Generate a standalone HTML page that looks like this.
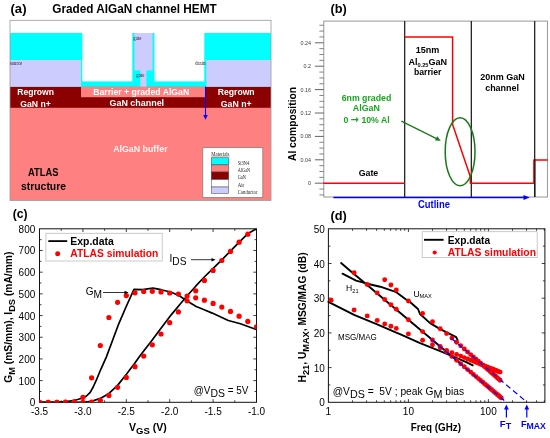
<!DOCTYPE html>
<html lang="en"><head><meta charset="utf-8"><title>Graded AlGaN channel HEMT</title>
<style>html,body{margin:0;padding:0;background:#fff;overflow:hidden}svg{display:block}</style></head>
<body>
<svg width="550" height="438" viewBox="0 0 550 438">
<rect x="0.00" y="0.00" width="550.00" height="438.00" fill="#fff" stroke="none" stroke-width="1" />
<g id="panel-a">
<text x="10.50" y="12.60" font-family='"Liberation Sans", Arial, sans-serif' font-size="12" text-anchor="start" font-weight="bold" fill="#000" textLength="16.0" lengthAdjust="spacingAndGlyphs" >(a)</text>
<text x="52.30" y="12.60" font-family='"Liberation Sans", Arial, sans-serif' font-size="12" text-anchor="start" font-weight="bold" fill="#000" textLength="164.4" lengthAdjust="spacingAndGlyphs" >Graded AlGaN channel HEMT</text>
<rect x="10.00" y="20.30" width="261.00" height="180.10" fill="#fff" stroke="none" stroke-width="1" />
<rect x="10.00" y="86.60" width="261.00" height="113.80" fill="#ff8080" stroke="none" stroke-width="1" />
<rect x="10.00" y="86.60" width="261.00" height="21.20" fill="#8b0000" stroke="none" stroke-width="1" />
<rect x="81.00" y="86.60" width="124.50" height="10.60" fill="#ff8080" stroke="none" stroke-width="1" />
<rect x="10.00" y="33.00" width="72.30" height="53.60" fill="#00ffff" stroke="none" stroke-width="1" />
<rect x="10.00" y="60.00" width="71.00" height="26.60" fill="#ccccff" stroke="none" stroke-width="1" />
<rect x="204.30" y="33.00" width="66.70" height="53.60" fill="#00ffff" stroke="none" stroke-width="1" />
<rect x="206.30" y="60.00" width="64.70" height="26.60" fill="#ccccff" stroke="none" stroke-width="1" />
<rect x="81.00" y="81.40" width="125.00" height="5.20" fill="#00ffff" stroke="none" stroke-width="1" />
<rect x="132.30" y="33.00" width="22.20" height="49.40" fill="#00ffff" stroke="none" stroke-width="1" />
<rect x="134.40" y="33.00" width="18.20" height="37.50" fill="#ccccff" stroke="none" stroke-width="1" />
<rect x="140.40" y="70.00" width="6.00" height="16.60" fill="#ccccff" stroke="none" stroke-width="1" />
<rect x="10.00" y="20.30" width="261.00" height="180.10" fill="none" stroke="#9a9a9a" stroke-width="0.8" />
<text x="17.25" y="95.17" font-family='"Liberation Sans", Arial, sans-serif' font-size="8.8" text-anchor="start" font-weight="bold" fill="#fff" textLength="36.7" lengthAdjust="spacingAndGlyphs" >Regrown</text>
<text x="20.35" y="106.77" font-family='"Liberation Sans", Arial, sans-serif' font-size="8.8" text-anchor="start" font-weight="bold" fill="#fff" textLength="30.5" lengthAdjust="spacingAndGlyphs" >GaN n+</text>
<text x="217.75" y="95.17" font-family='"Liberation Sans", Arial, sans-serif' font-size="8.8" text-anchor="start" font-weight="bold" fill="#fff" textLength="36.9" lengthAdjust="spacingAndGlyphs" >Regrown</text>
<text x="220.80" y="106.77" font-family='"Liberation Sans", Arial, sans-serif' font-size="8.8" text-anchor="start" font-weight="bold" fill="#fff" textLength="30.8" lengthAdjust="spacingAndGlyphs" >GaN n+</text>
<text x="93.20" y="94.57" font-family='"Liberation Sans", Arial, sans-serif' font-size="8.8" text-anchor="start" font-weight="bold" fill="#fff" textLength="96.0" lengthAdjust="spacingAndGlyphs" >Barrier + graded AlGaN</text>
<text x="109.50" y="105.57" font-family='"Liberation Sans", Arial, sans-serif' font-size="8.8" text-anchor="start" font-weight="bold" fill="#fff" textLength="54.6" lengthAdjust="spacingAndGlyphs" >GaN channel</text>
<text x="113.20" y="152.17" font-family='"Liberation Sans", Arial, sans-serif' font-size="8.8" text-anchor="start" font-weight="bold" fill="#fff4f4" textLength="54.4" lengthAdjust="spacingAndGlyphs" >AlGaN buffer</text>
<text x="28.05" y="176.40" font-family='"Liberation Sans", Arial, sans-serif' font-size="10" text-anchor="start" font-weight="bold" fill="#000" textLength="30.5" lengthAdjust="spacingAndGlyphs" >ATLAS</text>
<text x="21.00" y="189.60" font-family='"Liberation Sans", Arial, sans-serif' font-size="10" text-anchor="start" font-weight="bold" fill="#000" textLength="45.0" lengthAdjust="spacingAndGlyphs" >structure</text>
<text x="10.00" y="65.00" font-family='"Liberation Serif", "Times New Roman", serif' font-size="6.2" text-anchor="start" font-weight="normal" fill="#222" textLength="12.0" lengthAdjust="spacingAndGlyphs" >source</text>
<text x="133.30" y="40.20" font-family='"Liberation Serif", "Times New Roman", serif' font-size="6.2" text-anchor="start" font-weight="normal" fill="#222" textLength="8.0" lengthAdjust="spacingAndGlyphs" >gate</text>
<text x="136.30" y="77.10" font-family='"Liberation Serif", "Times New Roman", serif' font-size="6.2" text-anchor="start" font-weight="normal" fill="#222" textLength="8.0" lengthAdjust="spacingAndGlyphs" >gate</text>
<text x="194.90" y="64.80" font-family='"Liberation Serif", "Times New Roman", serif' font-size="6.2" text-anchor="start" font-weight="normal" fill="#222" textLength="10.6" lengthAdjust="spacingAndGlyphs" >drain</text>
<line x1="205.50" y1="86.60" x2="205.50" y2="116.00" stroke="#0000ff" stroke-width="1.1" />
<polygon points="203.2,115 207.8,115 205.5,119.8" fill="#0000ff"/>
<rect x="202.80" y="147.70" width="60.00" height="49.70" fill="#fff" stroke="#777" stroke-width="0.7" />
<text x="211.30" y="156.00" font-family='"Liberation Serif", "Times New Roman", serif' font-size="7" text-anchor="start" font-weight="normal" fill="#222" textLength="18.2" lengthAdjust="spacingAndGlyphs" >Materials</text>
<line x1="211.30" y1="156.90" x2="229.50" y2="156.90" stroke="#333" stroke-width="0.4" />
<rect x="211.30" y="157.80" width="17.40" height="7.10" fill="#00ffff" stroke="#444" stroke-width="0.5" />
<text x="237.70" y="165.20" font-family='"Liberation Serif", "Times New Roman", serif' font-size="6.7" text-anchor="start" font-weight="normal" fill="#222" textLength="11.5" lengthAdjust="spacingAndGlyphs" >Si3N4</text>
<rect x="211.30" y="164.90" width="17.40" height="7.10" fill="#ff8080" stroke="#444" stroke-width="0.5" />
<text x="237.70" y="172.30" font-family='"Liberation Serif", "Times New Roman", serif' font-size="6.7" text-anchor="start" font-weight="normal" fill="#222" textLength="12.5" lengthAdjust="spacingAndGlyphs" >AlGaN</text>
<rect x="211.30" y="172.00" width="17.40" height="7.60" fill="#8b0000" stroke="#444" stroke-width="0.5" />
<text x="237.70" y="179.40" font-family='"Liberation Serif", "Times New Roman", serif' font-size="6.7" text-anchor="start" font-weight="normal" fill="#222" textLength="8.3" lengthAdjust="spacingAndGlyphs" >GaN</text>
<rect x="211.30" y="179.60" width="17.40" height="7.40" fill="#fff" stroke="#444" stroke-width="0.5" />
<text x="237.70" y="186.70" font-family='"Liberation Serif", "Times New Roman", serif' font-size="6.7" text-anchor="start" font-weight="normal" fill="#222" textLength="6.5" lengthAdjust="spacingAndGlyphs" >Air</text>
<rect x="211.30" y="187.00" width="17.40" height="6.50" fill="#ccccff" stroke="#444" stroke-width="0.5" />
<text x="237.70" y="193.80" font-family='"Liberation Serif", "Times New Roman", serif' font-size="6.7" text-anchor="start" font-weight="normal" fill="#222" textLength="19.6" lengthAdjust="spacingAndGlyphs" >Conductor</text>
</g>
<g id="panel-b">
<text x="330.40" y="12.60" font-family='"Liberation Sans", Arial, sans-serif' font-size="12" text-anchor="start" font-weight="bold" fill="#000" textLength="16.3" lengthAdjust="spacingAndGlyphs" >(b)</text>
<rect x="323.80" y="21.10" width="223.60" height="175.90" fill="#fff" stroke="#8c8c8c" stroke-width="0.9" />
<line x1="319.40" y1="194.90" x2="323.80" y2="194.90" stroke="#666" stroke-width="0.8" />
<line x1="319.40" y1="189.05" x2="323.80" y2="189.05" stroke="#666" stroke-width="0.8" />
<line x1="314.90" y1="183.20" x2="323.80" y2="183.20" stroke="#555" stroke-width="0.9" />
<text x="311.00" y="185.10" font-family='"Liberation Sans", Arial, sans-serif' font-size="5.4" text-anchor="end" font-weight="normal" fill="#3c3c3c" >0</text>
<line x1="319.40" y1="177.35" x2="323.80" y2="177.35" stroke="#666" stroke-width="0.8" />
<line x1="319.40" y1="171.50" x2="323.80" y2="171.50" stroke="#666" stroke-width="0.8" />
<line x1="319.40" y1="165.65" x2="323.80" y2="165.65" stroke="#666" stroke-width="0.8" />
<line x1="314.90" y1="159.80" x2="323.80" y2="159.80" stroke="#555" stroke-width="0.9" />
<text x="311.00" y="161.70" font-family='"Liberation Sans", Arial, sans-serif' font-size="5.4" text-anchor="end" font-weight="normal" fill="#3c3c3c" >0.04</text>
<line x1="319.40" y1="153.95" x2="323.80" y2="153.95" stroke="#666" stroke-width="0.8" />
<line x1="319.40" y1="148.10" x2="323.80" y2="148.10" stroke="#666" stroke-width="0.8" />
<line x1="319.40" y1="142.25" x2="323.80" y2="142.25" stroke="#666" stroke-width="0.8" />
<line x1="314.90" y1="136.40" x2="323.80" y2="136.40" stroke="#555" stroke-width="0.9" />
<text x="311.00" y="138.30" font-family='"Liberation Sans", Arial, sans-serif' font-size="5.4" text-anchor="end" font-weight="normal" fill="#3c3c3c" >0.08</text>
<line x1="319.40" y1="130.55" x2="323.80" y2="130.55" stroke="#666" stroke-width="0.8" />
<line x1="319.40" y1="124.70" x2="323.80" y2="124.70" stroke="#666" stroke-width="0.8" />
<line x1="319.40" y1="118.85" x2="323.80" y2="118.85" stroke="#666" stroke-width="0.8" />
<line x1="314.90" y1="113.00" x2="323.80" y2="113.00" stroke="#555" stroke-width="0.9" />
<text x="311.00" y="114.90" font-family='"Liberation Sans", Arial, sans-serif' font-size="5.4" text-anchor="end" font-weight="normal" fill="#3c3c3c" >0.12</text>
<line x1="319.40" y1="107.15" x2="323.80" y2="107.15" stroke="#666" stroke-width="0.8" />
<line x1="319.40" y1="101.30" x2="323.80" y2="101.30" stroke="#666" stroke-width="0.8" />
<line x1="319.40" y1="95.45" x2="323.80" y2="95.45" stroke="#666" stroke-width="0.8" />
<line x1="314.90" y1="89.60" x2="323.80" y2="89.60" stroke="#555" stroke-width="0.9" />
<text x="311.00" y="91.50" font-family='"Liberation Sans", Arial, sans-serif' font-size="5.4" text-anchor="end" font-weight="normal" fill="#3c3c3c" >0.16</text>
<line x1="319.40" y1="83.75" x2="323.80" y2="83.75" stroke="#666" stroke-width="0.8" />
<line x1="319.40" y1="77.90" x2="323.80" y2="77.90" stroke="#666" stroke-width="0.8" />
<line x1="319.40" y1="72.05" x2="323.80" y2="72.05" stroke="#666" stroke-width="0.8" />
<line x1="314.90" y1="66.20" x2="323.80" y2="66.20" stroke="#555" stroke-width="0.9" />
<text x="311.00" y="68.10" font-family='"Liberation Sans", Arial, sans-serif' font-size="5.4" text-anchor="end" font-weight="normal" fill="#3c3c3c" >0.2</text>
<line x1="319.40" y1="60.35" x2="323.80" y2="60.35" stroke="#666" stroke-width="0.8" />
<line x1="319.40" y1="54.50" x2="323.80" y2="54.50" stroke="#666" stroke-width="0.8" />
<line x1="319.40" y1="48.65" x2="323.80" y2="48.65" stroke="#666" stroke-width="0.8" />
<line x1="314.90" y1="42.80" x2="323.80" y2="42.80" stroke="#555" stroke-width="0.9" />
<text x="311.00" y="44.70" font-family='"Liberation Sans", Arial, sans-serif' font-size="5.4" text-anchor="end" font-weight="normal" fill="#3c3c3c" >0.24</text>
<line x1="319.40" y1="36.95" x2="323.80" y2="36.95" stroke="#666" stroke-width="0.8" />
<line x1="319.40" y1="31.10" x2="323.80" y2="31.10" stroke="#666" stroke-width="0.8" />
<line x1="319.40" y1="25.25" x2="323.80" y2="25.25" stroke="#666" stroke-width="0.8" />
<line x1="404.70" y1="21.10" x2="404.70" y2="197.00" stroke="#111" stroke-width="1.2" />
<line x1="471.30" y1="21.10" x2="471.30" y2="197.00" stroke="#111" stroke-width="1.2" />
<line x1="534.70" y1="21.10" x2="534.70" y2="197.00" stroke="#111" stroke-width="1.2" />
<polyline fill="none" stroke="#ff0000" stroke-width="1.5" stroke-linejoin="round" stroke-linecap="round" stroke-linecap="butt" points="323.8,183.2 404.0,183.2"/>
<polyline fill="none" stroke="#ff0000" stroke-width="1.5" stroke-linejoin="round" stroke-linecap="round"  points="405.2,36.9 452.6,36.9 452.6,124.4 470.2,176.3 470.4,183.2 533.9,183.2 533.9,160.0 547.4,160.0"/>
<line x1="534.90" y1="159.00" x2="534.90" y2="197.00" stroke="#111" stroke-width="1.0" />
<ellipse cx="460.1" cy="151.7" rx="14.9" ry="34" fill="none" stroke="#1a7a1a" stroke-width="1.5"/>
<line x1="401.40" y1="121.20" x2="438.50" y2="139.70" stroke="#1a7a1a" stroke-width="1.3" />
<polygon points="440.8,140.8 435.0,140.6 437.2,136.2" fill="#1a7a1a"/>
<text x="341.70" y="100.65" font-family='"Liberation Sans", Arial, sans-serif' font-size="9.3" text-anchor="start" font-weight="bold" fill="#18a61e" textLength="49.6" lengthAdjust="spacingAndGlyphs" >6nm graded</text>
<text x="352.80" y="110.85" font-family='"Liberation Sans", Arial, sans-serif' font-size="9.3" text-anchor="start" font-weight="bold" fill="#18a61e" textLength="27.0" lengthAdjust="spacingAndGlyphs" >AlGaN</text>
<text x="343.4" y="122.75" font-family='"Liberation Sans", Arial, sans-serif' font-size="9.3" font-weight="bold" fill="#18a61e" textLength="46.3" lengthAdjust="spacingAndGlyphs">0 <tspan font-family='"DejaVu Sans", sans-serif' font-size="10.5">→</tspan> 10% Al</text>
<text x="358.70" y="176.36" font-family='"Liberation Sans", Arial, sans-serif' font-size="9.6" text-anchor="start" font-weight="bold" fill="#000" textLength="19.6" lengthAdjust="spacingAndGlyphs" >Gate</text>
<text x="415.80" y="53.26" font-family='"Liberation Sans", Arial, sans-serif' font-size="9.6" text-anchor="start" font-weight="bold" fill="#000" textLength="23.6" lengthAdjust="spacingAndGlyphs" >15nm</text>
<text x="408.4" y="65.15" font-family='"Liberation Sans", Arial, sans-serif' font-size="9.3" font-weight="bold" fill="#000" textLength="38.7" lengthAdjust="spacingAndGlyphs">Al<tspan font-size="5.8" dy="1.8">0.25</tspan><tspan dy="-1.8">GaN</tspan></text>
<text x="413.95" y="75.46" font-family='"Liberation Sans", Arial, sans-serif' font-size="9.6" text-anchor="start" font-weight="bold" fill="#000" textLength="27.5" lengthAdjust="spacingAndGlyphs" >barrier</text>
<text x="480.15" y="80.46" font-family='"Liberation Sans", Arial, sans-serif' font-size="9.6" text-anchor="start" font-weight="bold" fill="#000" textLength="44.5" lengthAdjust="spacingAndGlyphs" >20nm GaN</text>
<text x="485.15" y="91.46" font-family='"Liberation Sans", Arial, sans-serif' font-size="9.6" text-anchor="start" font-weight="bold" fill="#000" textLength="33.9" lengthAdjust="spacingAndGlyphs" >channel</text>
<text transform="translate(296.3,124) rotate(-90)" font-family='"Liberation Sans", Arial, sans-serif' font-size="10.3" font-weight="bold" text-anchor="middle" textLength="74" lengthAdjust="spacingAndGlyphs">Al composition</text>
<line x1="333.40" y1="197.50" x2="525.00" y2="197.50" stroke="#0000ff" stroke-width="1.6" />
<polygon points="523.5,195 523.5,200 529.8,197.5" fill="#0000ff"/>
<text x="418.00" y="208.20" font-family='"Liberation Sans", Arial, sans-serif' font-size="10" text-anchor="start" font-weight="bold" fill="#0000ff" textLength="32.0" lengthAdjust="spacingAndGlyphs" >Cutline</text>
</g>
<g id="panel-c">
<text x="12.70" y="218.30" font-family='"Liberation Sans", Arial, sans-serif' font-size="12" text-anchor="start" font-weight="bold" fill="#000" textLength="14.8" lengthAdjust="spacingAndGlyphs" >(c)</text>
<rect x="39.50" y="228.80" width="217.00" height="173.50" fill="#fff" stroke="#111" stroke-width="1.0" />
<text x="39.50" y="415.10" font-family='"Liberation Sans", Arial, sans-serif' font-size="10" text-anchor="middle" font-weight="normal" fill="#000" >-3.5</text>
<line x1="61.20" y1="402.30" x2="61.20" y2="400.30" stroke="#111" stroke-width="0.8" />
<line x1="61.20" y1="228.80" x2="61.20" y2="230.80" stroke="#111" stroke-width="0.8" />
<line x1="82.90" y1="402.30" x2="82.90" y2="399.10" stroke="#111" stroke-width="0.8" />
<line x1="82.90" y1="228.80" x2="82.90" y2="232.00" stroke="#111" stroke-width="0.8" />
<text x="82.90" y="415.10" font-family='"Liberation Sans", Arial, sans-serif' font-size="10" text-anchor="middle" font-weight="normal" fill="#000" >-3.0</text>
<line x1="104.60" y1="402.30" x2="104.60" y2="400.30" stroke="#111" stroke-width="0.8" />
<line x1="104.60" y1="228.80" x2="104.60" y2="230.80" stroke="#111" stroke-width="0.8" />
<line x1="126.30" y1="402.30" x2="126.30" y2="399.10" stroke="#111" stroke-width="0.8" />
<line x1="126.30" y1="228.80" x2="126.30" y2="232.00" stroke="#111" stroke-width="0.8" />
<text x="126.30" y="415.10" font-family='"Liberation Sans", Arial, sans-serif' font-size="10" text-anchor="middle" font-weight="normal" fill="#000" >-2.5</text>
<line x1="148.00" y1="402.30" x2="148.00" y2="400.30" stroke="#111" stroke-width="0.8" />
<line x1="148.00" y1="228.80" x2="148.00" y2="230.80" stroke="#111" stroke-width="0.8" />
<line x1="169.70" y1="402.30" x2="169.70" y2="399.10" stroke="#111" stroke-width="0.8" />
<line x1="169.70" y1="228.80" x2="169.70" y2="232.00" stroke="#111" stroke-width="0.8" />
<text x="169.70" y="415.10" font-family='"Liberation Sans", Arial, sans-serif' font-size="10" text-anchor="middle" font-weight="normal" fill="#000" >-2.0</text>
<line x1="191.40" y1="402.30" x2="191.40" y2="400.30" stroke="#111" stroke-width="0.8" />
<line x1="191.40" y1="228.80" x2="191.40" y2="230.80" stroke="#111" stroke-width="0.8" />
<line x1="213.10" y1="402.30" x2="213.10" y2="399.10" stroke="#111" stroke-width="0.8" />
<line x1="213.10" y1="228.80" x2="213.10" y2="232.00" stroke="#111" stroke-width="0.8" />
<text x="213.10" y="415.10" font-family='"Liberation Sans", Arial, sans-serif' font-size="10" text-anchor="middle" font-weight="normal" fill="#000" >-1.5</text>
<line x1="234.80" y1="402.30" x2="234.80" y2="400.30" stroke="#111" stroke-width="0.8" />
<line x1="234.80" y1="228.80" x2="234.80" y2="230.80" stroke="#111" stroke-width="0.8" />
<text x="256.50" y="415.10" font-family='"Liberation Sans", Arial, sans-serif' font-size="10" text-anchor="middle" font-weight="normal" fill="#000" >-1.0</text>
<text x="35.30" y="406.30" font-family='"Liberation Sans", Arial, sans-serif' font-size="10" text-anchor="end" font-weight="normal" fill="#000" >0</text>
<line x1="39.50" y1="391.46" x2="41.50" y2="391.46" stroke="#111" stroke-width="0.8" />
<line x1="256.50" y1="391.46" x2="254.50" y2="391.46" stroke="#111" stroke-width="0.8" />
<line x1="39.50" y1="380.61" x2="42.70" y2="380.61" stroke="#111" stroke-width="0.8" />
<line x1="256.50" y1="380.61" x2="253.30" y2="380.61" stroke="#111" stroke-width="0.8" />
<text x="35.30" y="384.61" font-family='"Liberation Sans", Arial, sans-serif' font-size="10" text-anchor="end" font-weight="normal" fill="#000" >100</text>
<line x1="39.50" y1="369.77" x2="41.50" y2="369.77" stroke="#111" stroke-width="0.8" />
<line x1="256.50" y1="369.77" x2="254.50" y2="369.77" stroke="#111" stroke-width="0.8" />
<line x1="39.50" y1="358.93" x2="42.70" y2="358.93" stroke="#111" stroke-width="0.8" />
<line x1="256.50" y1="358.93" x2="253.30" y2="358.93" stroke="#111" stroke-width="0.8" />
<text x="35.30" y="362.93" font-family='"Liberation Sans", Arial, sans-serif' font-size="10" text-anchor="end" font-weight="normal" fill="#000" >200</text>
<line x1="39.50" y1="348.08" x2="41.50" y2="348.08" stroke="#111" stroke-width="0.8" />
<line x1="256.50" y1="348.08" x2="254.50" y2="348.08" stroke="#111" stroke-width="0.8" />
<line x1="39.50" y1="337.24" x2="42.70" y2="337.24" stroke="#111" stroke-width="0.8" />
<line x1="256.50" y1="337.24" x2="253.30" y2="337.24" stroke="#111" stroke-width="0.8" />
<text x="35.30" y="341.24" font-family='"Liberation Sans", Arial, sans-serif' font-size="10" text-anchor="end" font-weight="normal" fill="#000" >300</text>
<line x1="39.50" y1="326.39" x2="41.50" y2="326.39" stroke="#111" stroke-width="0.8" />
<line x1="256.50" y1="326.39" x2="254.50" y2="326.39" stroke="#111" stroke-width="0.8" />
<line x1="39.50" y1="315.55" x2="42.70" y2="315.55" stroke="#111" stroke-width="0.8" />
<line x1="256.50" y1="315.55" x2="253.30" y2="315.55" stroke="#111" stroke-width="0.8" />
<text x="35.30" y="319.55" font-family='"Liberation Sans", Arial, sans-serif' font-size="10" text-anchor="end" font-weight="normal" fill="#000" >400</text>
<line x1="39.50" y1="304.71" x2="41.50" y2="304.71" stroke="#111" stroke-width="0.8" />
<line x1="256.50" y1="304.71" x2="254.50" y2="304.71" stroke="#111" stroke-width="0.8" />
<line x1="39.50" y1="293.86" x2="42.70" y2="293.86" stroke="#111" stroke-width="0.8" />
<line x1="256.50" y1="293.86" x2="253.30" y2="293.86" stroke="#111" stroke-width="0.8" />
<text x="35.30" y="297.86" font-family='"Liberation Sans", Arial, sans-serif' font-size="10" text-anchor="end" font-weight="normal" fill="#000" >500</text>
<line x1="39.50" y1="283.02" x2="41.50" y2="283.02" stroke="#111" stroke-width="0.8" />
<line x1="256.50" y1="283.02" x2="254.50" y2="283.02" stroke="#111" stroke-width="0.8" />
<line x1="39.50" y1="272.18" x2="42.70" y2="272.18" stroke="#111" stroke-width="0.8" />
<line x1="256.50" y1="272.18" x2="253.30" y2="272.18" stroke="#111" stroke-width="0.8" />
<text x="35.30" y="276.18" font-family='"Liberation Sans", Arial, sans-serif' font-size="10" text-anchor="end" font-weight="normal" fill="#000" >600</text>
<line x1="39.50" y1="261.33" x2="41.50" y2="261.33" stroke="#111" stroke-width="0.8" />
<line x1="256.50" y1="261.33" x2="254.50" y2="261.33" stroke="#111" stroke-width="0.8" />
<line x1="39.50" y1="250.49" x2="42.70" y2="250.49" stroke="#111" stroke-width="0.8" />
<line x1="256.50" y1="250.49" x2="253.30" y2="250.49" stroke="#111" stroke-width="0.8" />
<text x="35.30" y="254.49" font-family='"Liberation Sans", Arial, sans-serif' font-size="10" text-anchor="end" font-weight="normal" fill="#000" >700</text>
<line x1="39.50" y1="239.64" x2="41.50" y2="239.64" stroke="#111" stroke-width="0.8" />
<line x1="256.50" y1="239.64" x2="254.50" y2="239.64" stroke="#111" stroke-width="0.8" />
<text x="35.30" y="232.80" font-family='"Liberation Sans", Arial, sans-serif' font-size="10" text-anchor="end" font-weight="normal" fill="#000" >800</text>
<rect x="45.90" y="233.30" width="116.30" height="27.70" fill="#fff" stroke="#bdbdbd" stroke-width="0.8" />
<line x1="48.30" y1="241.10" x2="67.20" y2="241.10" stroke="#000" stroke-width="1.8" />
<text x="70.30" y="244.80" font-family='"Liberation Sans", Arial, sans-serif' font-size="10.3" text-anchor="start" font-weight="bold" fill="#000" textLength="43.5" lengthAdjust="spacingAndGlyphs" >Exp.data</text>
<circle cx="57.7" cy="253.8" r="2.5" fill="#ff0000"/>
<text x="70.30" y="257.30" font-family='"Liberation Sans", Arial, sans-serif' font-size="10.3" text-anchor="start" font-weight="bold" fill="#ff0000" textLength="88.0" lengthAdjust="spacingAndGlyphs" >ATLAS simulation</text>
<clipPath id="clipc"><rect x="39.5" y="228.8" width="217.0" height="173.5"/></clipPath>
<g clip-path="url(#clipc)">
<polyline fill="none" stroke="#000" stroke-width="1.7" stroke-linejoin="round" stroke-linecap="round"  points="39.5,402.3 57.0,402.0 65.6,401.6 74.2,400.5 82.8,398.0 86.5,396.0 90.2,392.4 93.2,387.0 96.3,380.2 100.6,369.8 106.3,357.1 112.6,340.3 118.2,325.2 126.0,307.0 134.0,289.3 142.6,289.7 152.9,288.2 161.1,289.7 171.4,292.3 179.7,296.0 187.9,301.6 196.2,306.5 204.2,309.8 212.2,313.1 228.3,320.5 240.4,323.7 256.3,329.4"/>
<polyline fill="none" stroke="#000" stroke-width="1.7" stroke-linejoin="round" stroke-linecap="round"  points="39.5,402.3 82.8,402.3 91.6,401.3 100.3,398.4 109.0,393.4 117.6,385.4 126.4,374.3 134.9,363.0 140.6,355.1 150.9,341.7 161.2,327.9 171.4,314.6 181.7,302.2 187.0,296.0 195.7,286.2 204.3,277.0 212.9,268.6 221.6,260.1 230.4,251.1 239.0,242.4 247.6,233.8 256.5,228.8"/>
<circle cx="39.5" cy="402.3" r="2.6" fill="#ff0000"/>
<circle cx="48.2" cy="402.3" r="2.6" fill="#ff0000"/>
<circle cx="56.9" cy="402.3" r="2.6" fill="#ff0000"/>
<circle cx="65.5" cy="402.1" r="2.6" fill="#ff0000"/>
<circle cx="74.2" cy="401.6" r="2.6" fill="#ff0000"/>
<circle cx="82.9" cy="397.3" r="2.6" fill="#ff0000"/>
<circle cx="91.6" cy="377.8" r="2.6" fill="#ff0000"/>
<circle cx="100.3" cy="345.5" r="2.6" fill="#ff0000"/>
<circle cx="108.9" cy="317.5" r="2.6" fill="#ff0000"/>
<circle cx="117.6" cy="302.3" r="2.6" fill="#ff0000"/>
<circle cx="126.3" cy="295.6" r="2.6" fill="#ff0000"/>
<circle cx="135.0" cy="292.8" r="2.6" fill="#ff0000"/>
<circle cx="143.7" cy="291.5" r="2.6" fill="#ff0000"/>
<circle cx="152.3" cy="291.3" r="2.6" fill="#ff0000"/>
<circle cx="161.0" cy="291.9" r="2.6" fill="#ff0000"/>
<circle cx="169.7" cy="293.0" r="2.6" fill="#ff0000"/>
<circle cx="178.4" cy="294.1" r="2.6" fill="#ff0000"/>
<circle cx="187.1" cy="296.0" r="2.6" fill="#ff0000"/>
<circle cx="195.7" cy="297.8" r="2.6" fill="#ff0000"/>
<circle cx="204.4" cy="300.2" r="2.6" fill="#ff0000"/>
<circle cx="213.1" cy="303.4" r="2.6" fill="#ff0000"/>
<circle cx="221.8" cy="307.1" r="2.6" fill="#ff0000"/>
<circle cx="230.5" cy="311.4" r="2.6" fill="#ff0000"/>
<circle cx="239.1" cy="316.2" r="2.6" fill="#ff0000"/>
<circle cx="247.8" cy="321.4" r="2.6" fill="#ff0000"/>
<circle cx="256.5" cy="326.8" r="2.6" fill="#ff0000"/>
<circle cx="39.5" cy="402.3" r="2.6" fill="#ff0000"/>
<circle cx="48.2" cy="402.3" r="2.6" fill="#ff0000"/>
<circle cx="56.9" cy="402.3" r="2.6" fill="#ff0000"/>
<circle cx="65.5" cy="402.3" r="2.6" fill="#ff0000"/>
<circle cx="74.2" cy="402.3" r="2.6" fill="#ff0000"/>
<circle cx="82.9" cy="402.3" r="2.6" fill="#ff0000"/>
<circle cx="91.6" cy="402.1" r="2.6" fill="#ff0000"/>
<circle cx="100.3" cy="400.3" r="2.6" fill="#ff0000"/>
<circle cx="108.9" cy="395.4" r="2.6" fill="#ff0000"/>
<circle cx="117.6" cy="387.3" r="2.6" fill="#ff0000"/>
<circle cx="126.3" cy="377.4" r="2.6" fill="#ff0000"/>
<circle cx="135.0" cy="366.7" r="2.6" fill="#ff0000"/>
<circle cx="143.7" cy="356.1" r="2.6" fill="#ff0000"/>
<circle cx="152.3" cy="344.8" r="2.6" fill="#ff0000"/>
<circle cx="161.0" cy="334.0" r="2.6" fill="#ff0000"/>
<circle cx="169.7" cy="322.7" r="2.6" fill="#ff0000"/>
<circle cx="178.4" cy="311.9" r="2.6" fill="#ff0000"/>
<circle cx="187.1" cy="300.8" r="2.6" fill="#ff0000"/>
<circle cx="195.7" cy="290.8" r="2.6" fill="#ff0000"/>
<circle cx="204.4" cy="280.4" r="2.6" fill="#ff0000"/>
<circle cx="213.1" cy="270.4" r="2.6" fill="#ff0000"/>
<circle cx="221.8" cy="260.5" r="2.6" fill="#ff0000"/>
<circle cx="230.5" cy="251.4" r="2.6" fill="#ff0000"/>
<circle cx="239.1" cy="242.2" r="2.6" fill="#ff0000"/>
<circle cx="247.8" cy="234.2" r="2.6" fill="#ff0000"/>
</g>
<text x="85.7" y="295" font-family='"Liberation Sans", Arial, sans-serif' font-size="10" fill="#000">G<tspan font-size="10.2" dy="2.8">M</tspan></text>
<line x1="103.00" y1="292.50" x2="126.00" y2="292.50" stroke="#000" stroke-width="0.8" />
<polygon points="124.5,290.7 124.5,294.3 128.6,292.5" fill="#000"/>
<text x="169.5" y="262" font-family='"Liberation Sans", Arial, sans-serif' font-size="10" fill="#000">I<tspan font-size="10.2" dy="2.8">DS</tspan></text>
<line x1="191.00" y1="259.70" x2="213.00" y2="259.70" stroke="#000" stroke-width="0.8" />
<polygon points="211.5,257.9 211.5,261.5 215.6,259.7" fill="#000"/>
<text x="193.7" y="394.4" font-family='"Liberation Sans", Arial, sans-serif' font-size="10" fill="#000" textLength="54.8" lengthAdjust="spacingAndGlyphs">@V<tspan font-size="10.5" dy="2.8">DS</tspan><tspan dy="-2.8"> = 5V</tspan></text>
<text x="129.1" y="431" font-family='"Liberation Sans", Arial, sans-serif' font-size="10.5" font-weight="bold" fill="#000" textLength="37.8" lengthAdjust="spacingAndGlyphs">V<tspan font-size="9.5" dy="3.2">GS</tspan><tspan dy="-3.2"> (V)</tspan></text>
<text transform="translate(12.0,317.2) rotate(-90)" font-family='"Liberation Sans", Arial, sans-serif' font-size="10.3" font-weight="bold" text-anchor="middle" textLength="131" lengthAdjust="spacingAndGlyphs">G<tspan font-size="9.3" dy="2.5">M</tspan><tspan dy="-2.5"> (mS/mm), I</tspan><tspan font-size="9.3" dy="2.5">DS</tspan><tspan dy="-2.5"> (mA/mm)</tspan></text>
</g>
<g id="panel-d">
<text x="330.40" y="220.00" font-family='"Liberation Sans", Arial, sans-serif' font-size="12" text-anchor="start" font-weight="bold" fill="#000" textLength="16.3" lengthAdjust="spacingAndGlyphs" >(d)</text>
<rect x="328.40" y="228.80" width="216.50" height="173.50" fill="#fff" stroke="#111" stroke-width="1.0" />
<text x="324.80" y="406.30" font-family='"Liberation Sans", Arial, sans-serif' font-size="10" text-anchor="end" font-weight="normal" fill="#000" >0</text>
<line x1="328.40" y1="384.95" x2="330.40" y2="384.95" stroke="#111" stroke-width="0.8" />
<line x1="544.90" y1="384.95" x2="542.90" y2="384.95" stroke="#111" stroke-width="0.8" />
<line x1="328.40" y1="367.60" x2="331.60" y2="367.60" stroke="#111" stroke-width="0.8" />
<line x1="544.90" y1="367.60" x2="541.70" y2="367.60" stroke="#111" stroke-width="0.8" />
<text x="324.80" y="371.60" font-family='"Liberation Sans", Arial, sans-serif' font-size="10" text-anchor="end" font-weight="normal" fill="#000" >10</text>
<line x1="328.40" y1="350.25" x2="330.40" y2="350.25" stroke="#111" stroke-width="0.8" />
<line x1="544.90" y1="350.25" x2="542.90" y2="350.25" stroke="#111" stroke-width="0.8" />
<line x1="328.40" y1="332.90" x2="331.60" y2="332.90" stroke="#111" stroke-width="0.8" />
<line x1="544.90" y1="332.90" x2="541.70" y2="332.90" stroke="#111" stroke-width="0.8" />
<text x="324.80" y="336.90" font-family='"Liberation Sans", Arial, sans-serif' font-size="10" text-anchor="end" font-weight="normal" fill="#000" >20</text>
<line x1="328.40" y1="315.55" x2="330.40" y2="315.55" stroke="#111" stroke-width="0.8" />
<line x1="544.90" y1="315.55" x2="542.90" y2="315.55" stroke="#111" stroke-width="0.8" />
<line x1="328.40" y1="298.20" x2="331.60" y2="298.20" stroke="#111" stroke-width="0.8" />
<line x1="544.90" y1="298.20" x2="541.70" y2="298.20" stroke="#111" stroke-width="0.8" />
<text x="324.80" y="302.20" font-family='"Liberation Sans", Arial, sans-serif' font-size="10" text-anchor="end" font-weight="normal" fill="#000" >30</text>
<line x1="328.40" y1="280.85" x2="330.40" y2="280.85" stroke="#111" stroke-width="0.8" />
<line x1="544.90" y1="280.85" x2="542.90" y2="280.85" stroke="#111" stroke-width="0.8" />
<line x1="328.40" y1="263.50" x2="331.60" y2="263.50" stroke="#111" stroke-width="0.8" />
<line x1="544.90" y1="263.50" x2="541.70" y2="263.50" stroke="#111" stroke-width="0.8" />
<text x="324.80" y="267.50" font-family='"Liberation Sans", Arial, sans-serif' font-size="10" text-anchor="end" font-weight="normal" fill="#000" >40</text>
<line x1="328.40" y1="246.15" x2="330.40" y2="246.15" stroke="#111" stroke-width="0.8" />
<line x1="544.90" y1="246.15" x2="542.90" y2="246.15" stroke="#111" stroke-width="0.8" />
<text x="324.80" y="232.80" font-family='"Liberation Sans", Arial, sans-serif' font-size="10" text-anchor="end" font-weight="normal" fill="#000" >50</text>
<line x1="352.48" y1="402.30" x2="352.48" y2="400.30" stroke="#111" stroke-width="0.8" />
<line x1="352.48" y1="228.80" x2="352.48" y2="230.80" stroke="#111" stroke-width="0.8" />
<line x1="366.57" y1="402.30" x2="366.57" y2="400.30" stroke="#111" stroke-width="0.8" />
<line x1="366.57" y1="228.80" x2="366.57" y2="230.80" stroke="#111" stroke-width="0.8" />
<line x1="376.56" y1="402.30" x2="376.56" y2="400.30" stroke="#111" stroke-width="0.8" />
<line x1="376.56" y1="228.80" x2="376.56" y2="230.80" stroke="#111" stroke-width="0.8" />
<line x1="384.32" y1="402.30" x2="384.32" y2="400.30" stroke="#111" stroke-width="0.8" />
<line x1="384.32" y1="228.80" x2="384.32" y2="230.80" stroke="#111" stroke-width="0.8" />
<line x1="390.65" y1="402.30" x2="390.65" y2="400.30" stroke="#111" stroke-width="0.8" />
<line x1="390.65" y1="228.80" x2="390.65" y2="230.80" stroke="#111" stroke-width="0.8" />
<line x1="396.01" y1="402.30" x2="396.01" y2="400.30" stroke="#111" stroke-width="0.8" />
<line x1="396.01" y1="228.80" x2="396.01" y2="230.80" stroke="#111" stroke-width="0.8" />
<line x1="400.65" y1="402.30" x2="400.65" y2="400.30" stroke="#111" stroke-width="0.8" />
<line x1="400.65" y1="228.80" x2="400.65" y2="230.80" stroke="#111" stroke-width="0.8" />
<line x1="404.74" y1="402.30" x2="404.74" y2="400.30" stroke="#111" stroke-width="0.8" />
<line x1="404.74" y1="228.80" x2="404.74" y2="230.80" stroke="#111" stroke-width="0.8" />
<line x1="408.40" y1="402.30" x2="408.40" y2="399.10" stroke="#111" stroke-width="0.8" />
<line x1="408.40" y1="228.80" x2="408.40" y2="232.00" stroke="#111" stroke-width="0.8" />
<line x1="432.48" y1="402.30" x2="432.48" y2="400.30" stroke="#111" stroke-width="0.8" />
<line x1="432.48" y1="228.80" x2="432.48" y2="230.80" stroke="#111" stroke-width="0.8" />
<line x1="446.57" y1="402.30" x2="446.57" y2="400.30" stroke="#111" stroke-width="0.8" />
<line x1="446.57" y1="228.80" x2="446.57" y2="230.80" stroke="#111" stroke-width="0.8" />
<line x1="456.56" y1="402.30" x2="456.56" y2="400.30" stroke="#111" stroke-width="0.8" />
<line x1="456.56" y1="228.80" x2="456.56" y2="230.80" stroke="#111" stroke-width="0.8" />
<line x1="464.32" y1="402.30" x2="464.32" y2="400.30" stroke="#111" stroke-width="0.8" />
<line x1="464.32" y1="228.80" x2="464.32" y2="230.80" stroke="#111" stroke-width="0.8" />
<line x1="470.65" y1="402.30" x2="470.65" y2="400.30" stroke="#111" stroke-width="0.8" />
<line x1="470.65" y1="228.80" x2="470.65" y2="230.80" stroke="#111" stroke-width="0.8" />
<line x1="476.01" y1="402.30" x2="476.01" y2="400.30" stroke="#111" stroke-width="0.8" />
<line x1="476.01" y1="228.80" x2="476.01" y2="230.80" stroke="#111" stroke-width="0.8" />
<line x1="480.65" y1="402.30" x2="480.65" y2="400.30" stroke="#111" stroke-width="0.8" />
<line x1="480.65" y1="228.80" x2="480.65" y2="230.80" stroke="#111" stroke-width="0.8" />
<line x1="484.74" y1="402.30" x2="484.74" y2="400.30" stroke="#111" stroke-width="0.8" />
<line x1="484.74" y1="228.80" x2="484.74" y2="230.80" stroke="#111" stroke-width="0.8" />
<line x1="488.40" y1="402.30" x2="488.40" y2="399.10" stroke="#111" stroke-width="0.8" />
<line x1="488.40" y1="228.80" x2="488.40" y2="232.00" stroke="#111" stroke-width="0.8" />
<line x1="512.48" y1="402.30" x2="512.48" y2="400.30" stroke="#111" stroke-width="0.8" />
<line x1="512.48" y1="228.80" x2="512.48" y2="230.80" stroke="#111" stroke-width="0.8" />
<line x1="526.57" y1="402.30" x2="526.57" y2="400.30" stroke="#111" stroke-width="0.8" />
<line x1="526.57" y1="228.80" x2="526.57" y2="230.80" stroke="#111" stroke-width="0.8" />
<line x1="536.56" y1="402.30" x2="536.56" y2="400.30" stroke="#111" stroke-width="0.8" />
<line x1="536.56" y1="228.80" x2="536.56" y2="230.80" stroke="#111" stroke-width="0.8" />
<line x1="544.32" y1="402.30" x2="544.32" y2="400.30" stroke="#111" stroke-width="0.8" />
<line x1="544.32" y1="228.80" x2="544.32" y2="230.80" stroke="#111" stroke-width="0.8" />
<text x="328.40" y="415.10" font-family='"Liberation Sans", Arial, sans-serif' font-size="10" text-anchor="middle" font-weight="normal" fill="#000" >1</text>
<text x="408.40" y="415.10" font-family='"Liberation Sans", Arial, sans-serif' font-size="10" text-anchor="middle" font-weight="normal" fill="#000" >10</text>
<text x="488.40" y="415.10" font-family='"Liberation Sans", Arial, sans-serif' font-size="10" text-anchor="middle" font-weight="normal" fill="#000" >100</text>
<rect x="422.20" y="231.70" width="115.00" height="25.90" fill="#fff" stroke="#bdbdbd" stroke-width="0.8" />
<line x1="424.00" y1="239.80" x2="443.60" y2="239.80" stroke="#000" stroke-width="1.9" />
<text x="447.70" y="243.50" font-family='"Liberation Sans", Arial, sans-serif' font-size="10.3" text-anchor="start" font-weight="bold" fill="#000" textLength="42.5" lengthAdjust="spacingAndGlyphs" >Exp.data</text>
<circle cx="434.7" cy="252.5" r="2.1" fill="#ff0000"/>
<text x="447.70" y="256.20" font-family='"Liberation Sans", Arial, sans-serif' font-size="10.3" text-anchor="start" font-weight="bold" fill="#ff0000" textLength="88.3" lengthAdjust="spacingAndGlyphs" >ATLAS simulation</text>
<polyline fill="none" stroke="#000" stroke-width="1.9" stroke-linejoin="round" stroke-linecap="round"  points="341.1,263.1 352.5,272.7 366.6,284.5 384.3,299.5 408.4,319.7 432.5,340.0 456.6,360.3 473.4,374.5"/>
<polyline fill="none" stroke="#000" stroke-width="1.9" stroke-linejoin="round" stroke-linecap="round"  points="342.5,273.7 356.1,280.7 367.2,283.7 380.2,286.7 396.3,292.2 408.4,301.2 410.0,302.0 418.0,309.0 420.0,314.0 430.1,323.1 440.2,329.1 448.2,333.1 456.2,337.1 457.6,340.2"/>
<polyline fill="none" stroke="#000" stroke-width="1.9" stroke-linejoin="round" stroke-linecap="round"  points="328.4,301.8 354.1,314.9 377.2,324.3 396.3,332.7 400.0,334.2 420.1,343.2 440.2,351.2 452.2,356.2 466.3,362.2 472.7,365.3"/>
<circle cx="354.1" cy="272.7" r="2.45" fill="#ff0000"/>
<circle cx="367.2" cy="284.5" r="2.45" fill="#ff0000"/>
<circle cx="377.2" cy="292.9" r="2.45" fill="#ff0000"/>
<circle cx="384.7" cy="299.5" r="2.45" fill="#ff0000"/>
<circle cx="390.9" cy="304.8" r="2.45" fill="#ff0000"/>
<circle cx="396.3" cy="309.3" r="2.45" fill="#ff0000"/>
<circle cx="408.4" cy="319.7" r="2.45" fill="#ff0000"/>
<circle cx="422.6" cy="331.6" r="2.45" fill="#ff0000"/>
<circle cx="432.5" cy="340.0" r="2.45" fill="#ff0000"/>
<circle cx="440.2" cy="346.5" r="2.45" fill="#ff0000"/>
<circle cx="446.6" cy="351.8" r="2.45" fill="#ff0000"/>
<circle cx="451.9" cy="356.4" r="2.45" fill="#ff0000"/>
<circle cx="456.6" cy="360.3" r="2.45" fill="#ff0000"/>
<circle cx="460.7" cy="363.7" r="2.45" fill="#ff0000"/>
<circle cx="464.3" cy="366.8" r="2.45" fill="#ff0000"/>
<circle cx="467.6" cy="369.6" r="2.45" fill="#ff0000"/>
<circle cx="470.7" cy="372.1" r="2.45" fill="#ff0000"/>
<circle cx="473.4" cy="374.5" r="2.45" fill="#ff0000"/>
<circle cx="476.0" cy="376.6" r="2.45" fill="#ff0000"/>
<circle cx="478.4" cy="378.6" r="2.45" fill="#ff0000"/>
<circle cx="480.6" cy="380.5" r="2.45" fill="#ff0000"/>
<circle cx="482.8" cy="382.3" r="2.45" fill="#ff0000"/>
<circle cx="484.7" cy="384.0" r="2.45" fill="#ff0000"/>
<circle cx="486.6" cy="385.5" r="2.45" fill="#ff0000"/>
<circle cx="488.4" cy="387.0" r="2.45" fill="#ff0000"/>
<circle cx="490.1" cy="388.5" r="2.45" fill="#ff0000"/>
<circle cx="491.7" cy="389.8" r="2.45" fill="#ff0000"/>
<circle cx="493.3" cy="391.1" r="2.45" fill="#ff0000"/>
<circle cx="494.7" cy="392.4" r="2.45" fill="#ff0000"/>
<circle cx="496.2" cy="393.6" r="2.45" fill="#ff0000"/>
<circle cx="497.5" cy="394.7" r="2.45" fill="#ff0000"/>
<circle cx="498.8" cy="395.8" r="2.45" fill="#ff0000"/>
<circle cx="500.1" cy="396.9" r="2.45" fill="#ff0000"/>
<circle cx="501.3" cy="397.9" r="2.45" fill="#ff0000"/>
<circle cx="384.7" cy="279.8" r="2.45" fill="#ff0000"/>
<circle cx="390.9" cy="285.0" r="2.45" fill="#ff0000"/>
<circle cx="396.3" cy="289.9" r="2.45" fill="#ff0000"/>
<circle cx="408.4" cy="301.0" r="2.45" fill="#ff0000"/>
<circle cx="422.6" cy="313.5" r="2.45" fill="#ff0000"/>
<circle cx="432.5" cy="321.8" r="2.45" fill="#ff0000"/>
<circle cx="440.2" cy="328.7" r="2.45" fill="#ff0000"/>
<circle cx="446.6" cy="333.6" r="2.45" fill="#ff0000"/>
<circle cx="451.9" cy="338.1" r="2.45" fill="#ff0000"/>
<circle cx="456.6" cy="342.3" r="2.45" fill="#ff0000"/>
<circle cx="460.7" cy="345.8" r="2.45" fill="#ff0000"/>
<circle cx="464.3" cy="349.0" r="2.45" fill="#ff0000"/>
<circle cx="467.6" cy="351.9" r="2.45" fill="#ff0000"/>
<circle cx="470.7" cy="354.6" r="2.45" fill="#ff0000"/>
<circle cx="473.4" cy="357.0" r="2.45" fill="#ff0000"/>
<circle cx="476.0" cy="359.2" r="2.45" fill="#ff0000"/>
<circle cx="478.4" cy="361.3" r="2.45" fill="#ff0000"/>
<circle cx="480.6" cy="363.3" r="2.45" fill="#ff0000"/>
<circle cx="482.8" cy="365.1" r="2.45" fill="#ff0000"/>
<circle cx="484.7" cy="366.8" r="2.45" fill="#ff0000"/>
<circle cx="486.6" cy="368.5" r="2.45" fill="#ff0000"/>
<circle cx="488.4" cy="370.0" r="2.45" fill="#ff0000"/>
<circle cx="490.1" cy="371.5" r="2.45" fill="#ff0000"/>
<circle cx="491.7" cy="372.9" r="2.45" fill="#ff0000"/>
<circle cx="493.3" cy="374.3" r="2.45" fill="#ff0000"/>
<circle cx="494.7" cy="375.5" r="2.45" fill="#ff0000"/>
<circle cx="496.2" cy="376.8" r="2.45" fill="#ff0000"/>
<circle cx="497.5" cy="378.0" r="2.45" fill="#ff0000"/>
<circle cx="498.8" cy="379.1" r="2.45" fill="#ff0000"/>
<circle cx="500.1" cy="380.2" r="2.45" fill="#ff0000"/>
<circle cx="331.1" cy="300.3" r="2.45" fill="#ff0000"/>
<circle cx="354.1" cy="310.0" r="2.45" fill="#ff0000"/>
<circle cx="367.2" cy="315.9" r="2.45" fill="#ff0000"/>
<circle cx="377.2" cy="320.4" r="2.45" fill="#ff0000"/>
<circle cx="384.7" cy="323.9" r="2.45" fill="#ff0000"/>
<circle cx="390.9" cy="326.3" r="2.45" fill="#ff0000"/>
<circle cx="396.3" cy="328.4" r="2.45" fill="#ff0000"/>
<circle cx="408.4" cy="333.9" r="2.45" fill="#ff0000"/>
<circle cx="422.6" cy="340.2" r="2.45" fill="#ff0000"/>
<circle cx="432.5" cy="344.7" r="2.45" fill="#ff0000"/>
<circle cx="440.2" cy="347.8" r="2.45" fill="#ff0000"/>
<circle cx="446.6" cy="350.4" r="2.45" fill="#ff0000"/>
<circle cx="451.9" cy="352.6" r="2.45" fill="#ff0000"/>
<circle cx="456.6" cy="354.5" r="2.45" fill="#ff0000"/>
<circle cx="460.7" cy="356.1" r="2.45" fill="#ff0000"/>
<circle cx="464.3" cy="357.6" r="2.45" fill="#ff0000"/>
<circle cx="467.6" cy="359.0" r="2.45" fill="#ff0000"/>
<circle cx="470.7" cy="360.2" r="2.45" fill="#ff0000"/>
<circle cx="473.4" cy="361.3" r="2.45" fill="#ff0000"/>
<circle cx="476.0" cy="362.4" r="2.45" fill="#ff0000"/>
<circle cx="478.4" cy="363.3" r="2.45" fill="#ff0000"/>
<circle cx="480.6" cy="364.2" r="2.45" fill="#ff0000"/>
<circle cx="482.8" cy="365.1" r="2.45" fill="#ff0000"/>
<circle cx="484.7" cy="365.9" r="2.45" fill="#ff0000"/>
<circle cx="486.6" cy="366.7" r="2.45" fill="#ff0000"/>
<circle cx="488.4" cy="367.4" r="2.45" fill="#ff0000"/>
<circle cx="490.1" cy="368.1" r="2.45" fill="#ff0000"/>
<circle cx="491.7" cy="368.7" r="2.45" fill="#ff0000"/>
<circle cx="493.3" cy="369.3" r="2.45" fill="#ff0000"/>
<circle cx="494.7" cy="369.9" r="2.45" fill="#ff0000"/>
<circle cx="496.2" cy="370.5" r="2.45" fill="#ff0000"/>
<circle cx="497.5" cy="371.1" r="2.45" fill="#ff0000"/>
<circle cx="498.8" cy="371.6" r="2.45" fill="#ff0000"/>
<circle cx="500.1" cy="372.1" r="2.45" fill="#ff0000"/>
<line x1="451.20" y1="338.20" x2="527.00" y2="402.30" stroke="#0000ff" stroke-width="1.2" stroke-dasharray="5.5,3.5"/>
<line x1="431.10" y1="339.20" x2="506.40" y2="402.30" stroke="#0000ff" stroke-width="1.2" stroke-dasharray="5.5,3.5"/>
<text x="346.1" y="290.8" font-family='"Liberation Sans", Arial, sans-serif' font-size="8.6" fill="#000">H<tspan font-size="5.6" dy="1.8">21</tspan></text>
<text x="413.4" y="296.6" font-family='"Liberation Sans", Arial, sans-serif' font-size="8.6" fill="#000">U<tspan font-size="5.6" dy="1.8">MAX</tspan></text>
<text x="338.00" y="340.40" font-family='"Liberation Sans", Arial, sans-serif' font-size="8.6" text-anchor="start" font-weight="normal" fill="#000" textLength="38.8" lengthAdjust="spacingAndGlyphs" >MSG/MAG</text>
<text x="332.7" y="395.4" font-family='"Liberation Sans", Arial, sans-serif' font-size="10" fill="#000" textLength="131.3" lengthAdjust="spacingAndGlyphs" xml:space="preserve">@V<tspan font-size="10.5" dy="2.8">DS</tspan><tspan dy="-2.8"> =  5V ; peak G</tspan><tspan font-size="10.5" dy="2.8">M</tspan><tspan dy="-2.8"> bias</tspan></text>
<text x="410.80" y="431.20" font-family='"Liberation Sans", Arial, sans-serif' font-size="10.3" text-anchor="start" font-weight="bold" fill="#000" textLength="50.2" lengthAdjust="spacingAndGlyphs" >Freq (GHz)</text>
<text transform="translate(306.2,317.4) rotate(-90)" font-family='"Liberation Sans", Arial, sans-serif' font-size="10.3" font-weight="bold" text-anchor="middle" textLength="130" lengthAdjust="spacingAndGlyphs">H<tspan font-size="9.3" dy="2.5">21</tspan><tspan dy="-2.5">, U</tspan><tspan font-size="9.3" dy="2.5">MAX</tspan><tspan dy="-2.5">, MSG/MAG (dB)</tspan></text>
<line x1="506.40" y1="417.50" x2="506.40" y2="408.00" stroke="#0000ff" stroke-width="1.2" />
<polygon points="504.0,409.4 508.8,409.4 506.4,404.4" fill="#0000ff"/>
<line x1="526.80" y1="417.50" x2="526.80" y2="408.00" stroke="#0000ff" stroke-width="1.2" />
<polygon points="524.4,409.4 529.2,409.4 526.8,404.4" fill="#0000ff"/>
<text x="499.8" y="426.8" font-family='"Liberation Sans", Arial, sans-serif' font-size="9.6" font-weight="bold" fill="#0000ff">F<tspan font-size="9" dy="2.6">T</tspan></text>
<text x="520.9" y="426.8" font-family='"Liberation Sans", Arial, sans-serif' font-size="9.6" font-weight="bold" fill="#0000ff" textLength="25" lengthAdjust="spacingAndGlyphs">F<tspan font-size="9" dy="2.6">MAX</tspan></text>
</g>
</svg>
</body></html>
